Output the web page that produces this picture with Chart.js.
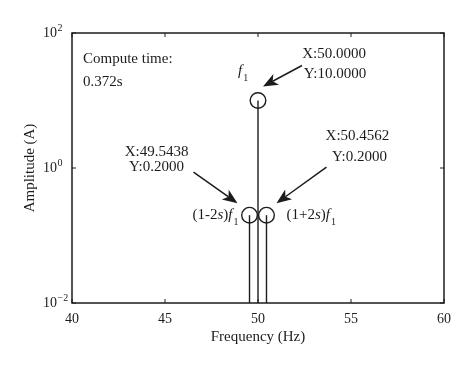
<!DOCTYPE html>
<html>
<head>
<meta charset="utf-8">
<script src="https://cdn.jsdelivr.net/npm/chart.js@4.4.1/dist/chart.umd.min.js"></script>
<style>
  html, body { margin: 0; padding: 0; background: #fff; }
  #wrap { width: 474px; height: 367px; }
</style>
</head>
<body>
<div id="wrap"><canvas id="spectrumChart"></canvas></div>
<script>
// spectrum peaks
const freqs = [49.5438, 50.0, 50.4562];
const amps = [0.2, 10.0, 0.2];
const xTicks = [40, 45, 50, 55, 60];
const yTicks = [0.01, 1, 100];
const yTickExp = ['\u22122', '0', '2'];
const yFloor = 0.01;

const INK = '#1c1c1c';
const SERIF = "'Liberation Serif', 'Times New Roman', serif";

// one stem per peak: from the axis floor up to the marker
const stems = freqs.map((f, i) => ({
    type: 'line',
    data: [{ x: f, y: yFloor }, { x: f, y: amps[i] }],
    borderColor: INK,
    borderWidth: 1.4,
    pointRadius: [0, 7.8],
    pointHoverRadius: [0, 7.8],
    pointBorderWidth: 1.4,
    pointBorderColor: INK,
    pointBackgroundColor: 'rgba(0,0,0,0)',
    fill: false
}));

function drawArrow(ctx, x1, y1, x2, y2) {
    const ang = Math.atan2(y2 - y1, x2 - x1);
    const len = 15, half = 6, notch = 4;
    const c = Math.cos(ang), s = Math.sin(ang);
    const bx = x2 - len * c, by = y2 - len * s;
    ctx.beginPath();
    ctx.moveTo(x1, y1);
    ctx.lineTo(bx + notch * c, by + notch * s);
    ctx.lineWidth = 1.5;
    ctx.stroke();
    ctx.beginPath();
    ctx.moveTo(x2, y2);
    ctx.lineTo(bx - half * s, by + half * c);
    ctx.lineTo(bx + notch * c, by + notch * s);
    ctx.lineTo(bx + half * s, by - half * c);
    ctx.closePath();
    ctx.fill();
}

// text with italic / subscript pieces, e.g. (1-2s)f1
function drawRich(ctx, parts, x, y) {
    let cx = x;
    parts.forEach(p => {
        if (p.sub) {
            ctx.font = '10px ' + SERIF;
            ctx.fillText(p.t, cx + 1, y + 7);
            cx += ctx.measureText(p.t).width + 1;
        } else {
            ctx.font = (p.it ? 'italic ' : '') + '15px ' + SERIF;
            ctx.fillText(p.t, cx, y);
            cx += ctx.measureText(p.t).width;
        }
    });
}

const annotations = {
    id: 'annotations',
    afterDraw(chart) {
        const { ctx, chartArea: ca, scales } = chart;
        const xs = scales.x, ys = scales.y;
        ctx.save();
        ctx.strokeStyle = INK;
        ctx.fillStyle = INK;

        // frame and inward ticks
        ctx.lineWidth = 1.5;
        ctx.strokeRect(ca.left, ca.top, ca.right - ca.left, ca.bottom - ca.top);
        ctx.lineWidth = 1;
        ctx.beginPath();
        xTicks.forEach(v => {
            const px = xs.getPixelForValue(v);
            ctx.moveTo(px, ca.bottom); ctx.lineTo(px, ca.bottom - 4);
            ctx.moveTo(px, ca.top); ctx.lineTo(px, ca.top + 4);
        });
        yTicks.forEach(v => {
            const py = ys.getPixelForValue(v);
            ctx.moveTo(ca.left, py); ctx.lineTo(ca.left + 4, py);
            ctx.moveTo(ca.right, py); ctx.lineTo(ca.right - 4, py);
        });
        ctx.stroke();

        // y tick labels as 10^n
        ctx.textBaseline = 'middle';
        yTicks.forEach((v, i) => {
            const py = ys.getPixelForValue(v);
            ctx.font = '14px ' + SERIF;
            ctx.textAlign = 'right';
            ctx.fillText('10', ca.left - 15, py);
            ctx.font = '10px ' + SERIF;
            ctx.textAlign = 'left';
            ctx.fillText(yTickExp[i], ca.left - 14.5, py - 5);
        });

        // compute time note
        ctx.font = '15px ' + SERIF;
        ctx.textAlign = 'left';
        ctx.fillText('Compute time:', ca.left + 11, ca.top + 26);
        ctx.fillText('0.372s', ca.left + 11, ca.top + 49);

        const pt = freqs.map((f, i) => ({ x: xs.getPixelForValue(f), y: ys.getPixelForValue(amps[i]) }));

        // main peak
        const p1 = pt[1];
        ctx.textAlign = 'center';
        ctx.font = '15px ' + SERIF;
        ctx.fillText('X:50.0000', p1.x + 76, p1.y - 46);
        ctx.fillText('Y:10.0000', p1.x + 77, p1.y - 26);
        drawArrow(ctx, p1.x + 44, p1.y - 35, p1.x + 5, p1.y - 14);
        ctx.textAlign = 'left';
        drawRich(ctx, [{ t: 'f', it: true }, { t: '1', sub: true }], p1.x - 20, p1.y - 29);

        // lower sideband
        const p0 = pt[0];
        ctx.textAlign = 'center';
        ctx.font = '15px ' + SERIF;
        ctx.fillText('X:49.5438', p0.x - 93, p0.y - 63);
        ctx.fillText('Y:0.2000', p0.x - 93, p0.y - 48);
        drawArrow(ctx, p0.x - 56, p0.y - 43, p0.x - 12, p0.y - 12);
        ctx.textAlign = 'left';
        drawRich(ctx, [{ t: '(1-2' }, { t: 's', it: true }, { t: ')' }, { t: 'f', it: true }, { t: '1', sub: true }], p0.x - 57, p0.y);

        // upper sideband
        const p2 = pt[2];
        ctx.textAlign = 'center';
        ctx.font = '15px ' + SERIF;
        ctx.fillText('X:50.4562', p2.x + 91, p2.y - 79);
        ctx.fillText('Y:0.2000', p2.x + 93, p2.y - 58);
        drawArrow(ctx, p2.x + 60, p2.y - 48, p2.x + 10, p2.y - 12);
        ctx.textAlign = 'left';
        drawRich(ctx, [{ t: '(1+2' }, { t: 's', it: true }, { t: ')' }, { t: 'f', it: true }, { t: '1', sub: true }], p2.x + 20, p2.y);

        ctx.restore();
    }
};

const ctxSpec = document.getElementById('spectrumChart').getContext('2d');
const spectrumChart = new Chart(ctxSpec, {
    type: 'line',
    data: { datasets: stems },
    options: {
        responsive: true,
        maintainAspectRatio: false,
        animation: false,
        events: [],
        layout: { padding: { left: 0, right: 30, top: 33, bottom: 0 } },
        scales: {
            x: {
                type: 'linear',
                position: 'bottom',
                min: 40,
                max: 60,
                afterBuildTicks: s => { s.ticks = xTicks.map(v => ({ value: v })); },
                afterFit: s => { s.height = 64; },
                grid: { display: false, drawTicks: false },
                border: { display: false },
                ticks: { color: INK, padding: 8, font: { family: SERIF, size: 14 } },
                title: {
                    display: true,
                    text: 'Frequency (Hz)',
                    color: INK,
                    font: { family: SERIF, size: 15 },
                    padding: { top: 0, bottom: 21 }
                }
            },
            y: {
                type: 'logarithmic',
                min: 0.01,
                max: 100,
                afterBuildTicks: s => { s.ticks = yTicks.map(v => ({ value: v })); },
                afterFit: s => { s.width = 72; },
                grid: { display: false, drawTicks: false },
                border: { display: false },
                ticks: { display: false },
                title: {
                    display: true,
                    text: 'Amplitude (A)',
                    color: INK,
                    font: { family: SERIF, size: 15 },
                    padding: { top: 21, bottom: 0 }
                }
            }
        },
        plugins: {
            legend: { display: false },
            tooltip: { enabled: false }
        }
    },
    plugins: [annotations]
});
</script>
</body>
</html>
